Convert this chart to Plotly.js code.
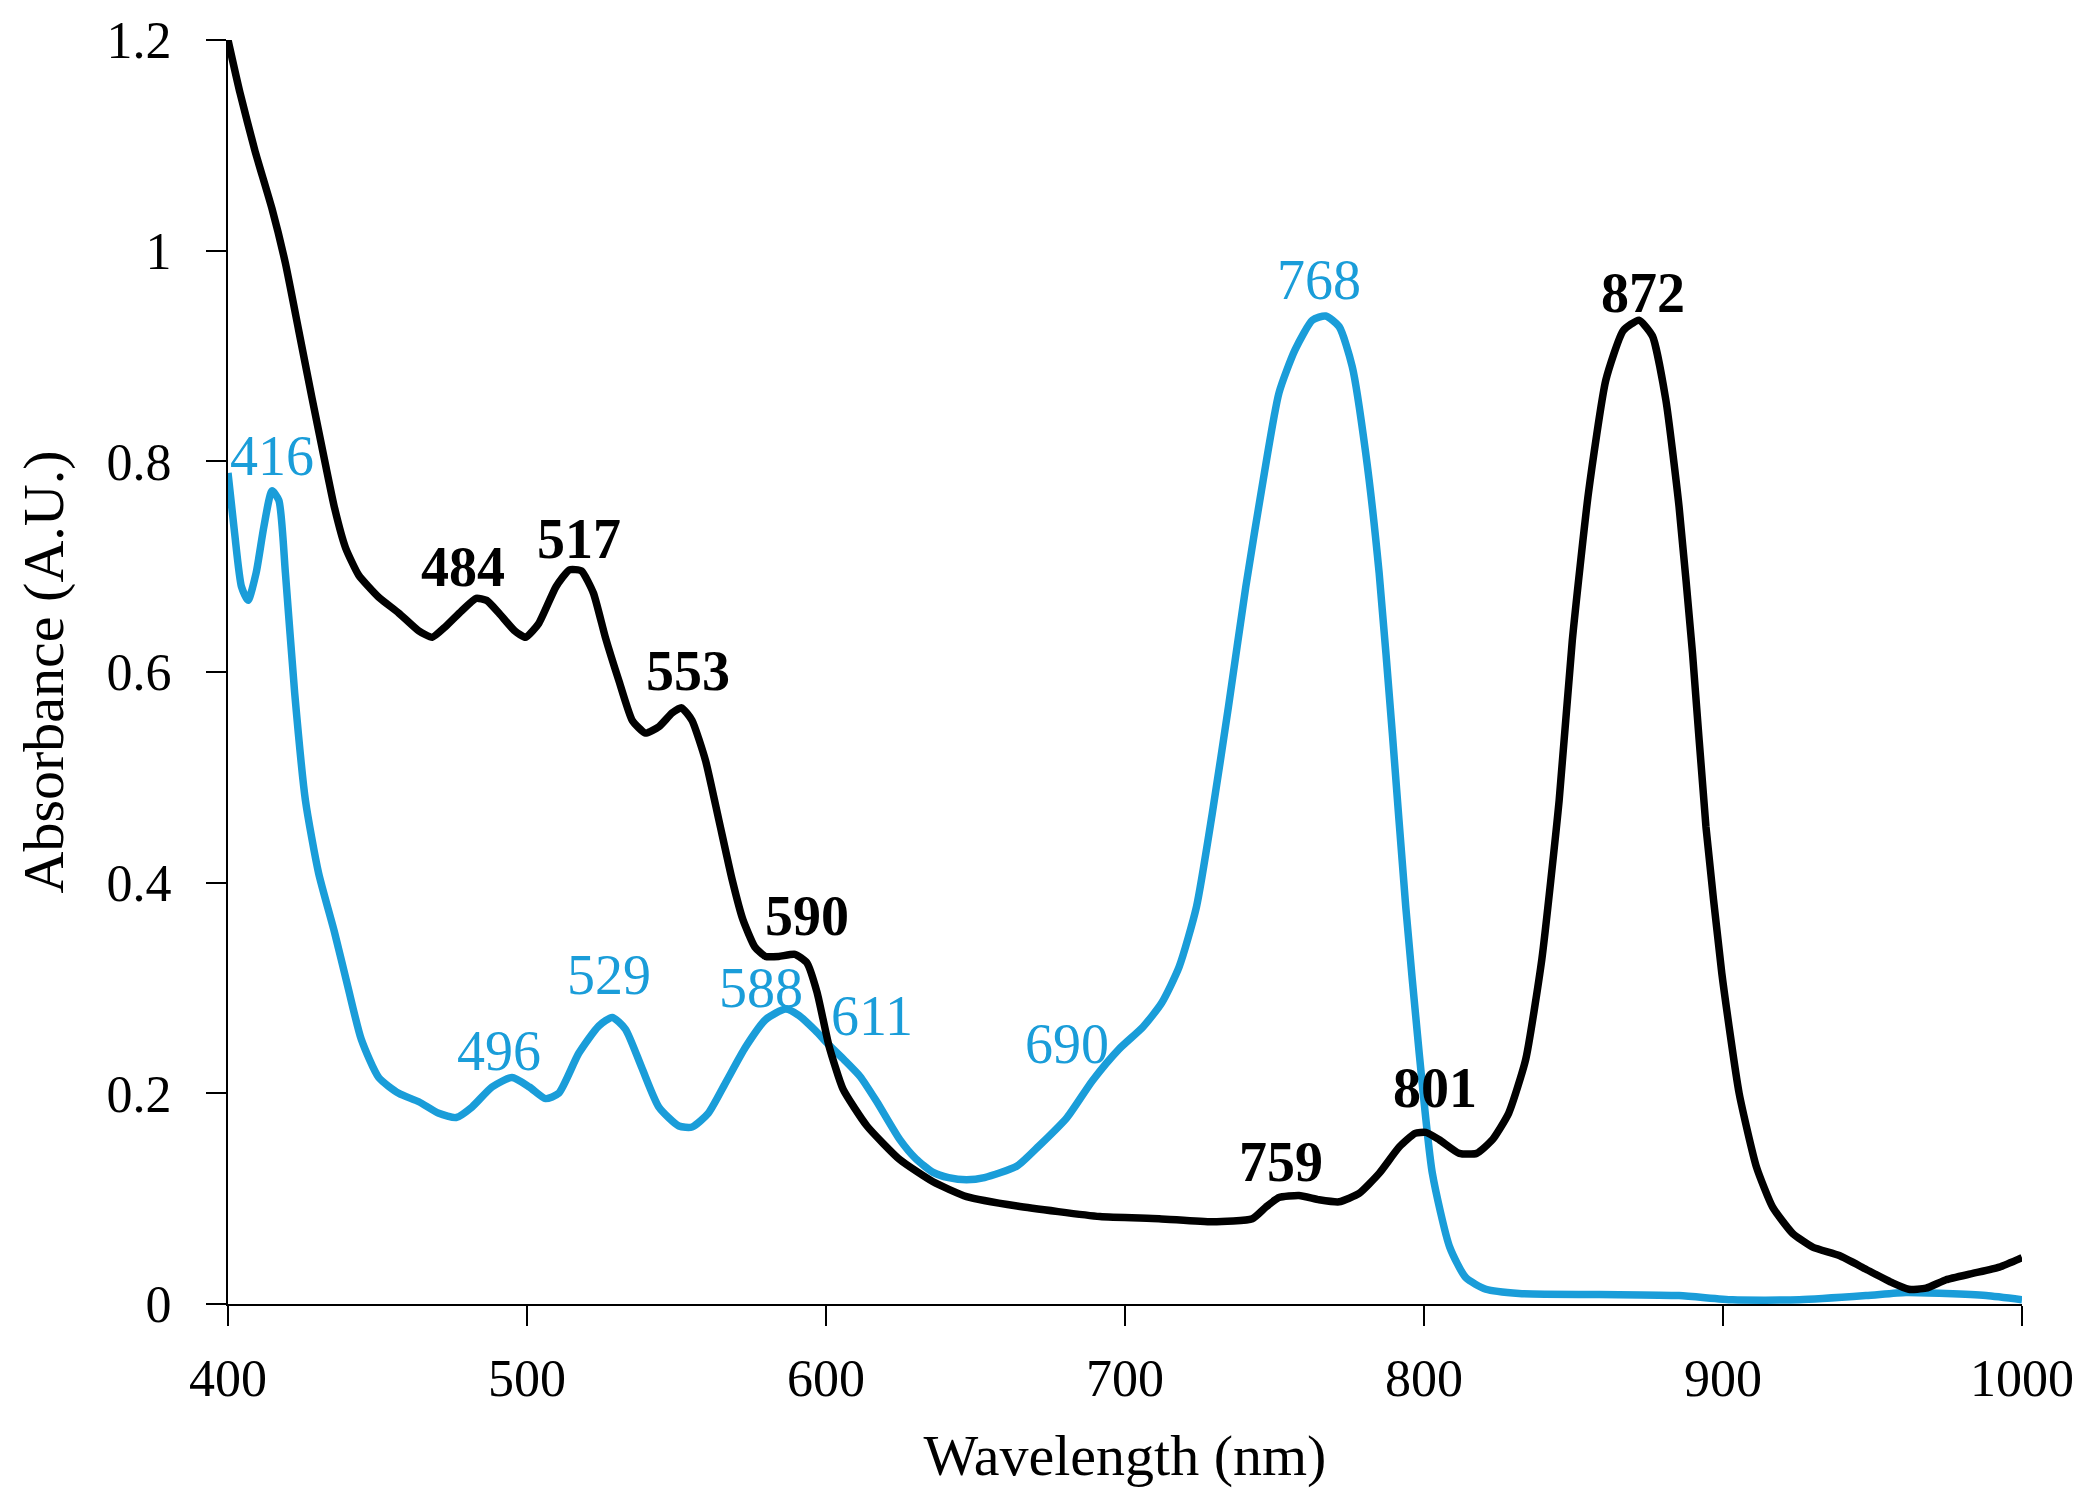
<!DOCTYPE html>
<html>
<head>
<meta charset="utf-8">
<script src="https://cdn.plot.ly/plotly-3.0.1.min.js"></script>
<style>html,body{margin:0;padding:0;background:#fff;}#chart{width:2090px;height:1495px;}</style>
</head>
<body>
<div id="chart"></div>
<script>
// Black spectrum
const wavelengthBlack = [400,404,409,414.7,419.2,423.6,428.1,432.6,435.7,439.3,443.7,450.4,457.1,463.8,468.3,472.7,478.1,483,486.5,490.6,495.9,499.5,503.9,509.7,514.2,518.2,522.2,526.2,530.7,535.2,539.6,544.1,548.5,551.7,555.2,559.7,564.2,568.6,572.2,576.2,579.8,584.2,589.6,593.6,597,601,605.7,613.7,624.7,635.8,647,663.9,691.6,711.4,729.2,742.6,747.1,751.5,758.2,764.9,771.6,778.3,785,791.7,797,800.6,805.1,811.8,817.6,822.9,828.3,834,839.4,845.2,849.6,855,860.8,866.6,871.9,876.4,880.9,885.3,889.8,894.3,899.6,905.4,911.2,916.6,923.3,930,938.9,947.8,956.7,962.1,967.9,974.6,983.5,992.4,1000];
const absorbanceBlack = [1.2,1.15,1.095,1.040,0.988,0.925,0.860,0.797,0.755,0.718,0.692,0.671,0.656,0.639,0.633,0.643,0.658,0.670,0.668,0.656,0.639,0.633,0.646,0.681,0.697,0.696,0.675,0.633,0.592,0.554,0.542,0.548,0.561,0.566,0.554,0.516,0.459,0.403,0.365,0.339,0.330,0.330,0.332,0.324,0.296,0.245,0.204,0.169,0.137,0.116,0.102,0.093,0.083,0.081,0.078,0.081,0.092,0.101,0.103,0.099,0.097,0.105,0.124,0.149,0.162,0.163,0.156,0.143,0.143,0.156,0.181,0.232,0.327,0.478,0.630,0.770,0.877,0.924,0.934,0.919,0.858,0.757,0.618,0.453,0.314,0.200,0.130,0.092,0.067,0.054,0.046,0.033,0.020,0.014,0.015,0.023,0.029,0.035,0.044];

// Blue spectrum
const wavelengthBlue = [400,402.2,404.5,406.7,409.4,412,414.7,417,419.2,422.3,425.9,430.3,435.7,440.1,444.6,450.4,457.1,463.8,470.5,476.3,481.6,488.3,495,500.8,506.2,510.6,517.3,524,528.5,532.9,538.3,544.1,550.8,555.2,560.6,566.4,573.1,579.8,586.5,590.9,596.3,601.3,606,611.4,617,624.7,630,635.8,641,647,653,663.9,671.2,680.6,689.1,698,706,712.3,718.1,723.9,729.2,734.6,740.4,746.2,751.5,756.9,762.7,767.1,771.6,776,780.5,785,789.4,793.9,798.4,802.8,808.6,814,820.7,831.8,858.6,885.3,903.2,925.5,947.8,961.2,974.6,988,1000];
const absorbanceBlue = [0.789,0.732,0.681,0.668,0.694,0.738,0.772,0.763,0.694,0.580,0.478,0.409,0.352,0.301,0.251,0.215,0.200,0.192,0.181,0.177,0.187,0.206,0.215,0.206,0.195,0.200,0.238,0.264,0.272,0.261,0.225,0.187,0.169,0.168,0.181,0.210,0.244,0.270,0.280,0.274,0.260,0.245,0.232,0.216,0.192,0.156,0.138,0.125,0.120,0.118,0.120,0.131,0.150,0.177,0.212,0.242,0.263,0.286,0.320,0.377,0.466,0.567,0.681,0.782,0.865,0.906,0.934,0.938,0.928,0.890,0.808,0.694,0.542,0.377,0.238,0.124,0.054,0.025,0.014,0.010,0.009,0.008,0.004,0.004,0.008,0.011,0.010,0.008,0.004];

// Peak labels
const blackPeakText = ["484","517","553","590","759","801","872"];
const blackPeakX = [478.6,517.4,553.8,593.6,752.2,803.7,873.2];
const blackPeakY = [0.700,0.726,0.601,0.368,0.135,0.205,0.960];
const bluePeakText = ["416","496","529","588","611","690","768"];
const bluePeakX = [414.7,490.6,527.4,578.3,615.4,680.6,764.9];
const bluePeakY = [0.805,0.240,0.312,0.300,0.273,0.247,0.972];

const xTickVals = [400,500,600,700,800,900,1000];
const yTickVals = [0,0.2,0.4,0.6,0.8,1,1.2];

const BLUE = '#1a9dd9';
const FONT = '"Liberation Serif", "Times New Roman", serif';

const traces = [
  {x: wavelengthBlue, y: absorbanceBlue, mode: 'lines', line: {color: BLUE, width: 7.5, shape: 'spline', smoothing: 0.6}, hoverinfo: 'skip'},
  {x: wavelengthBlack, y: absorbanceBlack, mode: 'lines', line: {color: '#000000', width: 7.5, shape: 'spline', smoothing: 0.5}, hoverinfo: 'skip'}
];

const annotations = [];
blackPeakText.forEach((t, i) => annotations.push({x: blackPeakX[i], y: blackPeakY[i], xref: 'x', yref: 'y', text: '<b>' + t + '</b>', showarrow: false, font: {family: FONT, size: 56, color: '#000'}}));
bluePeakText.forEach((t, i) => annotations.push({x: bluePeakX[i], y: bluePeakY[i], xref: 'x', yref: 'y', text: t, showarrow: false, font: {family: FONT, size: 56, color: BLUE}}));

const layout = {
  width: 2090, height: 1495,
  margin: {l: 228, r: 68, t: 40, b: 191, pad: 0},
  paper_bgcolor: '#fff', plot_bgcolor: '#fff',
  showlegend: false,
  font: {family: FONT, size: 52, color: '#000'},
  xaxis: {
    range: [400, 1000], tickvals: xTickVals, ticks: 'outside', ticklen: 20, tickwidth: 2, tickcolor: '#000',
    showline: true, linecolor: '#000', linewidth: 2, showgrid: false, zeroline: false,
    tickfont: {family: FONT, size: 52}, ticklabelstandoff: 8,
    title: {text: 'Wavelength (nm)', font: {family: FONT, size: 58}, standoff: 28}
  },
  yaxis: {
    range: [0, 1.2], tickvals: yTickVals, ticks: 'outside', ticklen: 20, tickwidth: 2, tickcolor: '#000',
    showline: true, linecolor: '#000', linewidth: 2, showgrid: false, zeroline: false,
    tickfont: {family: FONT, size: 52}, ticklabelstandoff: 24,
    title: {text: 'Absorbance (A.U.)', font: {family: FONT, size: 58}, standoff: 24}
  },
  annotations: annotations
};

Plotly.newPlot('chart', traces, layout, {staticPlot: true, displayModeBar: false});
</script>
</body>
</html>
